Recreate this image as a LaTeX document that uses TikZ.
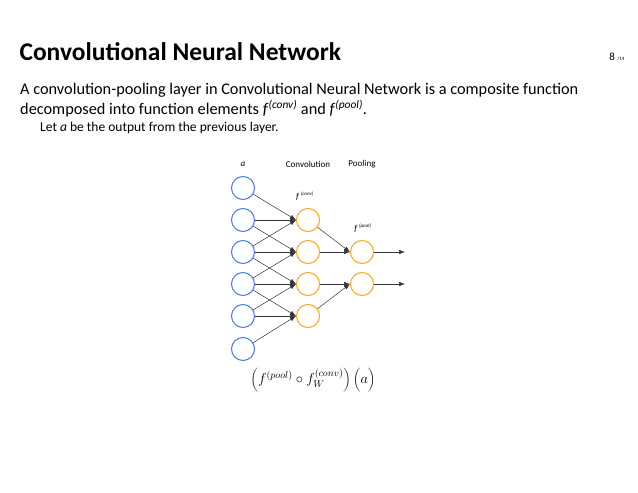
\documentclass[tikz,border=0pt]{standalone}
\usepackage{fontspec}
\setmainfont{Carlito}
\usetikzlibrary{arrows.meta}
\definecolor{inb}{RGB}{70,120,230}
\definecolor{cvo}{RGB}{245,170,20}
\begin{document}
\begin{tikzpicture}[x=1pt,y=-1pt,
 inp/.style={circle,draw=inb,line width=1pt,minimum size=23pt,inner sep=0},
 cv/.style={circle,draw=cvo,line width=1pt,minimum size=23pt,inner sep=0},
 ed/.style={draw=black!80,-{Latex[length=6pt,width=4.5pt]},line width=0.5pt}]
\useasboundingbox (0,0) rectangle (638,493);
\node[anchor=west,font=\bfseries\fontsize{25.5}{30}\selectfont] (title) at (16,52) {Convolutional Neural Network};
\node[anchor=east,font=\fontsize{11}{12}\selectfont] (pg) at (628,57) {8 {\tiny /14}};
\node[anchor=north west,align=left,font=\fontsize{16.3}{20}\selectfont,inner sep=0] (body) at (20,83) {A convolution-pooling layer in Convolutional Neural Network is a composite function\\decomposed into function elements \textit{f}\textsuperscript{\textit{(conv)}} and \textit{f}\textsuperscript{\textit{(pool)}}.};
\node[anchor=west,font=\fontsize{13.5}{15}\selectfont,inner sep=0] (let) at (40,128) {Let \textit{a} be the output from the previous layer.};
\node[font=\small\itshape] (la) at (243,164) {a};
\node[font=\small] (lc) at (308,164) {Convolution};
\node[font=\small] (lp) at (362,164) {Pooling};
\foreach \i/\y in {1/188,2/220,3/252,4/284,5/316,6/349} \node[inp] (a\i) at (243,\y) {};
\foreach \i/\y in {1/220,2/252,3/284,4/316} \node[cv] (c\i) at (308,\y) {};
\foreach \i/\y in {1/252,2/284} \node[cv] (p\i) at (362,\y) {};
\node[font=\small] (fc) at (305,196) {\textit{f}\,\textsuperscript{\textit{\tiny(conv)}}};
\node[font=\small] (fp) at (363,228) {\textit{f}\,\textsuperscript{\textit{\tiny(pool)}}};
\foreach \j in {1,...,4}{
 \pgfmathtruncatemacro{\b}{\j+1}\pgfmathtruncatemacro{\c}{\j+2}
 \draw[ed] (a\j) -- (c\j.west); \draw[ed] (a\b) -- (c\j.west); \draw[ed] (a\c) -- (c\j.west);}
\draw[ed] (c1) -- (p1.west); \draw[ed] (c2) -- (p1.west);
\draw[ed] (c3) -- (p2.west); \draw[ed] (c4) -- (p2.west);
\coordinate (o1) at (405,252); \coordinate (o2) at (405,284);
\draw[ed] (p1) -- (o1); \draw[ed] (p2) -- (o2);
\node[font=\Large] (form) at (313,380) {$\left(\vphantom{f_W^{(conv)}}f^{(pool)}\circ f_W^{(conv)}\right)\left(\vphantom{f_W^{(conv)}}a\right)$};
\end{tikzpicture}
\end{document}
